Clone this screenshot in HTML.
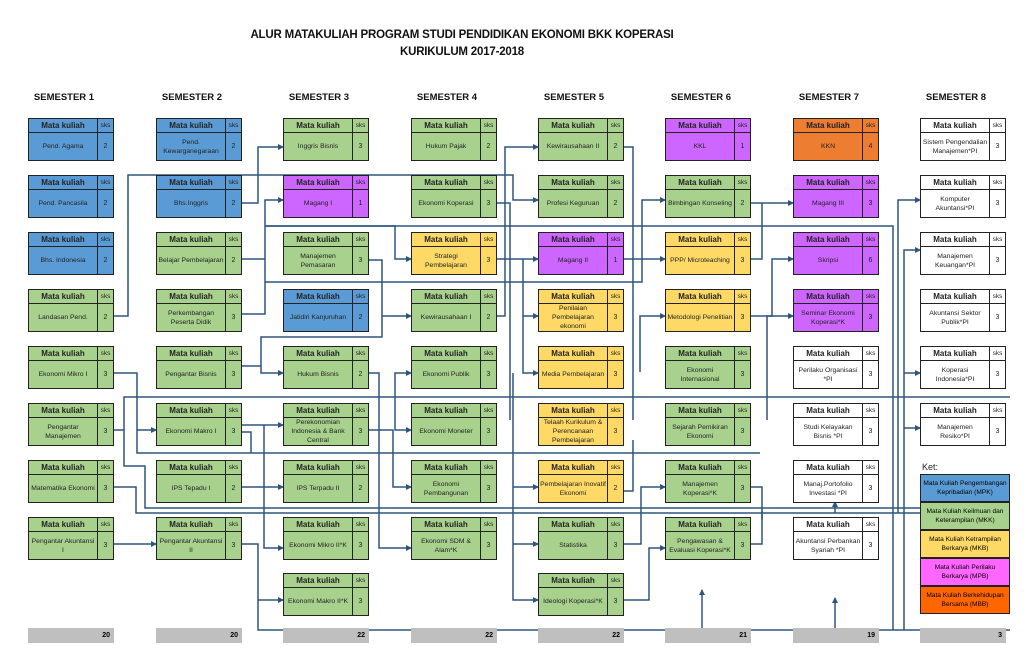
<!DOCTYPE html>
<html><head><meta charset="utf-8">
<style>
body{margin:0;width:1024px;height:669px;position:relative;background:#fff;font-family:"Liberation Sans",sans-serif;overflow:hidden}
.ti{position:absolute;left:162px;width:600px;text-align:center;font-weight:bold;font-size:11.5px;color:#111;white-space:nowrap;letter-spacing:-0.2px}
.sm{position:absolute;top:92px;width:100px;text-align:center;font-weight:bold;font-size:9.5px;color:#111}
.b{position:absolute;width:86px;height:43px;border:1px solid #222;box-sizing:border-box;color:#222}
.b>span{position:absolute;display:flex;align-items:center;justify-content:center;text-align:center;box-sizing:border-box}
.t1{left:0;top:0;width:69px;height:14px;border-right:1px solid #222;border-bottom:1px solid #222;font-weight:bold;font-size:8px}
.t2{left:69px;top:0;width:15px;height:14px;border-bottom:1px solid #222;font-size:6.5px}
.n{left:0;top:14px;width:69px;height:27px;border-right:1px solid #222;font-size:6.8px;line-height:9px;padding:0 1px}
.v{left:69px;top:14px;width:15px;height:27px;font-size:7px}
.bl{background:#5b9bd5}.g{background:#a9d18e}.y{background:#ffd966}.p{background:#cc66ff}.o{background:#ed7d31}.w{background:#fff}
.ft{position:absolute;top:628px;width:86px;height:15px;background:#bfbfbf;font-size:7px;font-weight:bold;text-align:right;line-height:15px;box-sizing:border-box;padding-right:4px}
.lg{position:absolute;left:920px;width:90px;height:28px;border:1px solid #222;box-sizing:border-box;font-size:6.6px;display:flex;align-items:center;justify-content:center;text-align:center;line-height:9px}
svg{position:absolute;left:0;top:0}
</style></head><body>
<div class="ti" style="top:29px">ALUR MATAKULIAH PROGRAM STUDI PENDIDIKAN EKONOMI BKK KOPERASI</div>
<div class="ti" style="top:46px">KURIKULUM 2017-2018</div>
<div class="sm" style="left:14px">SEMESTER 1</div>
<div class="sm" style="left:142px">SEMESTER 2</div>
<div class="sm" style="left:269px">SEMESTER 3</div>
<div class="sm" style="left:397px">SEMESTER 4</div>
<div class="sm" style="left:524px">SEMESTER 5</div>
<div class="sm" style="left:651px">SEMESTER 6</div>
<div class="sm" style="left:779px">SEMESTER 7</div>
<div class="sm" style="left:906px">SEMESTER 8</div>

<svg width="1024" height="669" viewBox="0 0 1024 669">
<defs><marker id="a" markerWidth="6" markerHeight="6" refX="5" refY="3" orient="auto" markerUnits="userSpaceOnUse"><path d="M0,0 L6,3 L0,6 z" fill="#2f557d"/></marker></defs>
<g fill="none" stroke="#2f557d" stroke-width="1.5">
<polyline points="241,203 258,203 258,147 283,147" marker-end="url(#a)"/>
<polyline points="114,316 128,316 128,175 513,175 513,200 538,200" marker-end="url(#a)"/>
<polyline points="241,259 265,259"/>
<polyline points="241,314 265,314 265,200 283,200" marker-end="url(#a)"/>
<polyline points="265,226 395,226 395,259 411,259" marker-end="url(#a)"/>
<polyline points="265,226 893,226 893,630"/>
<polyline points="265,282 642,282 642,200 665,200" marker-end="url(#a)"/>
<polyline points="368,260 382,260 382,316 411,316" marker-end="url(#a)"/>
<polyline points="382,316 382,337 261,337 261,373 283,373" marker-end="url(#a)"/>
<polyline points="241,366 261,366"/>
<polyline points="114,373 137,373 137,453 760,453"/>
<polyline points="137,430 156,430" marker-end="url(#a)"/>
<polyline points="114,430 124,430 124,397 1010,397"/>
<polyline points="124,430 124,466 145,466 145,508 1010,508"/>
<polyline points="114,487 136,487 136,513 1010,513"/>
<polyline points="114,544 156,544" marker-end="url(#a)"/>
<polyline points="241,425 283,425" marker-end="url(#a)"/>
<polyline points="241,432 251,432 251,453"/>
<polyline points="264,425 264,548 283,548" marker-end="url(#a)"/>
<polyline points="241,487 283,487" marker-end="url(#a)"/>
<polyline points="241,544 258,544 258,630 1010,630"/>
<polyline points="258,600 283,600" marker-end="url(#a)"/>
<polyline points="368,373 379,373 379,548 411,548" marker-end="url(#a)"/>
<polyline points="368,430 393,430 393,487 411,487" marker-end="url(#a)"/>
<polyline points="395,380 395,373 411,373" marker-end="url(#a)"/>
<polyline points="395,380 395,430 411,430" marker-end="url(#a)"/>
<polyline points="497,203 510,203 510,420"/>
<polyline points="497,316 505,316 505,147 538,147" marker-end="url(#a)"/>
<polyline points="497,259 538,259" marker-end="url(#a)"/>
<polyline points="523,259 523,373 538,373" marker-end="url(#a)"/>
<polyline points="523,316 538,316" marker-end="url(#a)"/>
<polyline points="513,373 513,600 538,600" marker-end="url(#a)"/>
<polyline points="513,487 538,487" marker-end="url(#a)"/>
<polyline points="513,544 538,544" marker-end="url(#a)"/>
<polyline points="624,147 633,147 633,420"/>
<polyline points="624,259 665,259" marker-end="url(#a)"/>
<polyline points="640,372 640,316 665,316" marker-end="url(#a)"/>
<polyline points="624,491 633,491 633,440"/>
<polyline points="624,544 641,544 641,487 665,487" marker-end="url(#a)"/>
<polyline points="624,600 649,600 649,548 665,548" marker-end="url(#a)"/>
<polyline points="751,203 793,203" marker-end="url(#a)"/>
<polyline points="751,259 762,259 762,203"/>
<polyline points="751,316 772,316 772,259 793,259" marker-end="url(#a)"/>
<polyline points="767,420 767,316 793,316" marker-end="url(#a)"/>
<polyline points="751,487 762,487 762,520"/>
<polyline points="751,544 762,544 762,510"/>
<polyline points="702,630 702,590" marker-end="url(#a)"/>
<polyline points="835,630 835,598" marker-end="url(#a)"/>
<polyline points="835,513 835,502" marker-end="url(#a)"/>
<polyline points="898,513 898,200 920,200" marker-end="url(#a)"/>
<polyline points="904,630 904,250 920,250" marker-end="url(#a)"/>
<polyline points="904,373 920,373" marker-end="url(#a)"/>
<polyline points="904,428 920,428" marker-end="url(#a)"/>
</g></svg>

<div class="b bl" style="left:28px;top:118px"><span class="t1">Mata kuliah</span><span class="t2">sks</span><span class="n">Pend. Agama</span><span class="v">2</span></div>
<div class="b bl" style="left:28px;top:175px"><span class="t1">Mata kuliah</span><span class="t2">sks</span><span class="n">Pend. Pancasila</span><span class="v">2</span></div>
<div class="b bl" style="left:28px;top:232px"><span class="t1">Mata kuliah</span><span class="t2">sks</span><span class="n">Bhs. Indonesia</span><span class="v">2</span></div>
<div class="b g" style="left:28px;top:289px"><span class="t1">Mata kuliah</span><span class="t2">sks</span><span class="n">Landasan Pend.</span><span class="v">2</span></div>
<div class="b g" style="left:28px;top:346px"><span class="t1">Mata kuliah</span><span class="t2">sks</span><span class="n">Ekonomi Mikro I</span><span class="v">3</span></div>
<div class="b g" style="left:28px;top:403px"><span class="t1">Mata kuliah</span><span class="t2">sks</span><span class="n">Pengantar Manajemen</span><span class="v">3</span></div>
<div class="b g" style="left:28px;top:460px"><span class="t1">Mata kuliah</span><span class="t2">sks</span><span class="n">Matematika Ekonomi</span><span class="v">3</span></div>
<div class="b g" style="left:28px;top:517px"><span class="t1">Mata kuliah</span><span class="t2">sks</span><span class="n">Pengantar Akuntansi I</span><span class="v">3</span></div>

<div class="b bl" style="left:156px;top:118px"><span class="t1">Mata kuliah</span><span class="t2">sks</span><span class="n">Pend. Kewarganegaraan</span><span class="v">2</span></div>
<div class="b bl" style="left:156px;top:175px"><span class="t1">Mata kuliah</span><span class="t2">sks</span><span class="n">Bhs.Inggris</span><span class="v">2</span></div>
<div class="b g" style="left:156px;top:232px"><span class="t1">Mata kuliah</span><span class="t2">sks</span><span class="n">Belajar Pembelajaran</span><span class="v">2</span></div>
<div class="b g" style="left:156px;top:289px"><span class="t1">Mata kuliah</span><span class="t2">sks</span><span class="n">Perkembangan Peserta Didik</span><span class="v">3</span></div>
<div class="b g" style="left:156px;top:346px"><span class="t1">Mata kuliah</span><span class="t2">sks</span><span class="n">Pengantar Bisnis</span><span class="v">3</span></div>
<div class="b g" style="left:156px;top:403px"><span class="t1">Mata kuliah</span><span class="t2">sks</span><span class="n">Ekonomi Makro I</span><span class="v">3</span></div>
<div class="b g" style="left:156px;top:460px"><span class="t1">Mata kuliah</span><span class="t2">sks</span><span class="n">IPS Tepadu I</span><span class="v">2</span></div>
<div class="b g" style="left:156px;top:517px"><span class="t1">Mata kuliah</span><span class="t2">sks</span><span class="n">Pengantar Akuntansi II</span><span class="v">3</span></div>

<div class="b g" style="left:283px;top:118px"><span class="t1">Mata kuliah</span><span class="t2">sks</span><span class="n">Inggris Bisnis</span><span class="v">3</span></div>
<div class="b p" style="left:283px;top:175px"><span class="t1">Mata kuliah</span><span class="t2">sks</span><span class="n">Magang I</span><span class="v">1</span></div>
<div class="b g" style="left:283px;top:232px"><span class="t1">Mata kuliah</span><span class="t2">sks</span><span class="n">Manajemen Pemasaran</span><span class="v">3</span></div>
<div class="b bl" style="left:283px;top:289px"><span class="t1">Mata kuliah</span><span class="t2">sks</span><span class="n">Jatidiri Kanjuruhan</span><span class="v">2</span></div>
<div class="b g" style="left:283px;top:346px"><span class="t1">Mata kuliah</span><span class="t2">sks</span><span class="n">Hukum Bisnis</span><span class="v">2</span></div>
<div class="b g" style="left:283px;top:403px"><span class="t1">Mata kuliah</span><span class="t2">sks</span><span class="n">Perekonomian Indonesia &amp; Bank Central</span><span class="v">3</span></div>
<div class="b g" style="left:283px;top:460px"><span class="t1">Mata kuliah</span><span class="t2">sks</span><span class="n">IPS Terpadu II</span><span class="v">2</span></div>
<div class="b g" style="left:283px;top:517px"><span class="t1">Mata kuliah</span><span class="t2">sks</span><span class="n">Ekonomi Mikro II*K</span><span class="v">3</span></div>
<div class="b g" style="left:283px;top:573px"><span class="t1">Mata kuliah</span><span class="t2">sks</span><span class="n">Ekonomi Makro II*K</span><span class="v">3</span></div>

<div class="b g" style="left:411px;top:118px"><span class="t1">Mata kuliah</span><span class="t2">sks</span><span class="n">Hukum Pajak</span><span class="v">2</span></div>
<div class="b g" style="left:411px;top:175px"><span class="t1">Mata kuliah</span><span class="t2">sks</span><span class="n">Ekonomi Koperasi</span><span class="v">3</span></div>
<div class="b y" style="left:411px;top:232px"><span class="t1">Mata kuliah</span><span class="t2">sks</span><span class="n">Strategi Pembelajaran</span><span class="v">3</span></div>
<div class="b g" style="left:411px;top:289px"><span class="t1">Mata kuliah</span><span class="t2">sks</span><span class="n">Kewirausahaan I</span><span class="v">2</span></div>
<div class="b g" style="left:411px;top:346px"><span class="t1">Mata kuliah</span><span class="t2">sks</span><span class="n">Ekonomi Publik</span><span class="v">3</span></div>
<div class="b g" style="left:411px;top:403px"><span class="t1">Mata kuliah</span><span class="t2">sks</span><span class="n">Ekonomi Moneter</span><span class="v">3</span></div>
<div class="b g" style="left:411px;top:460px"><span class="t1">Mata kuliah</span><span class="t2">sks</span><span class="n">Ekonomi Pembangunan</span><span class="v">3</span></div>
<div class="b g" style="left:411px;top:517px"><span class="t1">Mata kuliah</span><span class="t2">sks</span><span class="n">Ekonomi SDM &amp; Alam*K</span><span class="v">3</span></div>

<div class="b g" style="left:538px;top:118px"><span class="t1">Mata kuliah</span><span class="t2">sks</span><span class="n">Kewirausahaan II</span><span class="v">2</span></div>
<div class="b g" style="left:538px;top:175px"><span class="t1">Mata kuliah</span><span class="t2">sks</span><span class="n">Profesi Keguruan</span><span class="v">2</span></div>
<div class="b p" style="left:538px;top:232px"><span class="t1">Mata kuliah</span><span class="t2">sks</span><span class="n">Magang II</span><span class="v">1</span></div>
<div class="b y" style="left:538px;top:289px"><span class="t1">Mata kuliah</span><span class="t2">sks</span><span class="n">Penilaian Pembelajaran ekonomi</span><span class="v">3</span></div>
<div class="b y" style="left:538px;top:346px"><span class="t1">Mata kuliah</span><span class="t2">sks</span><span class="n">Media Pembelajaran</span><span class="v">3</span></div>
<div class="b y" style="left:538px;top:403px"><span class="t1">Mata kuliah</span><span class="t2">sks</span><span class="n">Telaah Kurikulum &amp; Perencanaan Pembelajaran</span><span class="v">3</span></div>
<div class="b y" style="left:538px;top:460px"><span class="t1">Mata kuliah</span><span class="t2">sks</span><span class="n">Pembelajaran Inovatif Ekonomi</span><span class="v">2</span></div>
<div class="b g" style="left:538px;top:517px"><span class="t1">Mata kuliah</span><span class="t2">sks</span><span class="n">Statistika</span><span class="v">3</span></div>
<div class="b g" style="left:538px;top:573px"><span class="t1">Mata kuliah</span><span class="t2">sks</span><span class="n">Ideologi Koperasi*K</span><span class="v">3</span></div>

<div class="b p" style="left:665px;top:118px"><span class="t1">Mata kuliah</span><span class="t2">sks</span><span class="n">KKL</span><span class="v">1</span></div>
<div class="b g" style="left:665px;top:175px"><span class="t1">Mata kuliah</span><span class="t2">sks</span><span class="n">Bimbingan Konseling</span><span class="v">2</span></div>
<div class="b y" style="left:665px;top:232px"><span class="t1">Mata kuliah</span><span class="t2">sks</span><span class="n">PPP/ Microteaching</span><span class="v">3</span></div>
<div class="b y" style="left:665px;top:289px"><span class="t1">Mata kuliah</span><span class="t2">sks</span><span class="n">Metodologi Penelitian</span><span class="v">3</span></div>
<div class="b g" style="left:665px;top:346px"><span class="t1">Mata kuliah</span><span class="t2">sks</span><span class="n">Ekonomi Internasional</span><span class="v">3</span></div>
<div class="b g" style="left:665px;top:403px"><span class="t1">Mata kuliah</span><span class="t2">sks</span><span class="n">Sejarah Pemikiran Ekonomi</span><span class="v">3</span></div>
<div class="b g" style="left:665px;top:460px"><span class="t1">Mata kuliah</span><span class="t2">sks</span><span class="n">Manajemen Koperasi*K</span><span class="v">3</span></div>
<div class="b g" style="left:665px;top:517px"><span class="t1">Mata kuliah</span><span class="t2">sks</span><span class="n">Pengawasan &amp; Evaluasi Koperasi*K</span><span class="v">3</span></div>

<div class="b o" style="left:793px;top:118px"><span class="t1">Mata kuliah</span><span class="t2">sks</span><span class="n">KKN</span><span class="v">4</span></div>
<div class="b p" style="left:793px;top:175px"><span class="t1">Mata kuliah</span><span class="t2">sks</span><span class="n">Magang III</span><span class="v">3</span></div>
<div class="b p" style="left:793px;top:232px"><span class="t1">Mata kuliah</span><span class="t2">sks</span><span class="n">Skripsi</span><span class="v">6</span></div>
<div class="b p" style="left:793px;top:289px"><span class="t1">Mata kuliah</span><span class="t2">sks</span><span class="n">Seminar Ekonomi Koperasi*K</span><span class="v">3</span></div>
<div class="b w" style="left:793px;top:346px"><span class="t1">Mata kuliah</span><span class="t2">sks</span><span class="n">Perilaku Organisasi *PI</span><span class="v">3</span></div>
<div class="b w" style="left:793px;top:403px"><span class="t1">Mata kuliah</span><span class="t2">sks</span><span class="n">Studi Kelayakan Bisnis *PI</span><span class="v">3</span></div>
<div class="b w" style="left:793px;top:460px"><span class="t1">Mata kuliah</span><span class="t2">sks</span><span class="n">Manaj.Portofolio Investasi *PI</span><span class="v">3</span></div>
<div class="b w" style="left:793px;top:517px"><span class="t1">Mata kuliah</span><span class="t2">sks</span><span class="n">Akuntansi Perbankan Syariah *PI</span><span class="v">3</span></div>

<div class="b w" style="left:920px;top:118px"><span class="t1">Mata kuliah</span><span class="t2">sks</span><span class="n">Sistem Pengendalian Manajemen*PI</span><span class="v">3</span></div>
<div class="b w" style="left:920px;top:175px"><span class="t1">Mata kuliah</span><span class="t2">sks</span><span class="n">Komputer Akuntansi*PI</span><span class="v">3</span></div>
<div class="b w" style="left:920px;top:232px"><span class="t1">Mata kuliah</span><span class="t2">sks</span><span class="n">Manajemen Keuangan*PI</span><span class="v">3</span></div>
<div class="b w" style="left:920px;top:289px"><span class="t1">Mata kuliah</span><span class="t2">sks</span><span class="n">Akuntansi Sektor Publik*PI</span><span class="v">3</span></div>
<div class="b w" style="left:920px;top:346px"><span class="t1">Mata kuliah</span><span class="t2">sks</span><span class="n">Koperasi Indonesia*PI</span><span class="v">3</span></div>
<div class="b w" style="left:920px;top:403px"><span class="t1">Mata kuliah</span><span class="t2">sks</span><span class="n">Manajemen Resiko*PI</span><span class="v">3</span></div>

<div style="position:absolute;left:922px;top:462px;font-size:9px;color:#222">Ket:</div>
<div class="lg" style="top:474px;background:#5b9bd5">Mata Kuliah Pengembangan Kepribadian (MPK)</div>
<div class="lg" style="top:502px;background:#a9d18e">Mata Kuliah Keilmuan dan Keterampilan (MKK)</div>
<div class="lg" style="top:530px;background:#ffd966">Mata Kuliah Ketrampilan Berkarya (MKB)</div>
<div class="lg" style="top:558px;background:#ff66ff">Mata Kuliah Perilaku Berkarya (MPB)</div>
<div class="lg" style="top:586px;background:#ff6600">Mata Kuliah Berkehidupan Bersama (MBB)</div>

<div class="ft" style="left:28px">20</div>
<div class="ft" style="left:156px">20</div>
<div class="ft" style="left:283px">22</div>
<div class="ft" style="left:411px">22</div>
<div class="ft" style="left:538px">22</div>
<div class="ft" style="left:665px">21</div>
<div class="ft" style="left:793px">19</div>
<div class="ft" style="left:920px">3</div>
</body></html>
